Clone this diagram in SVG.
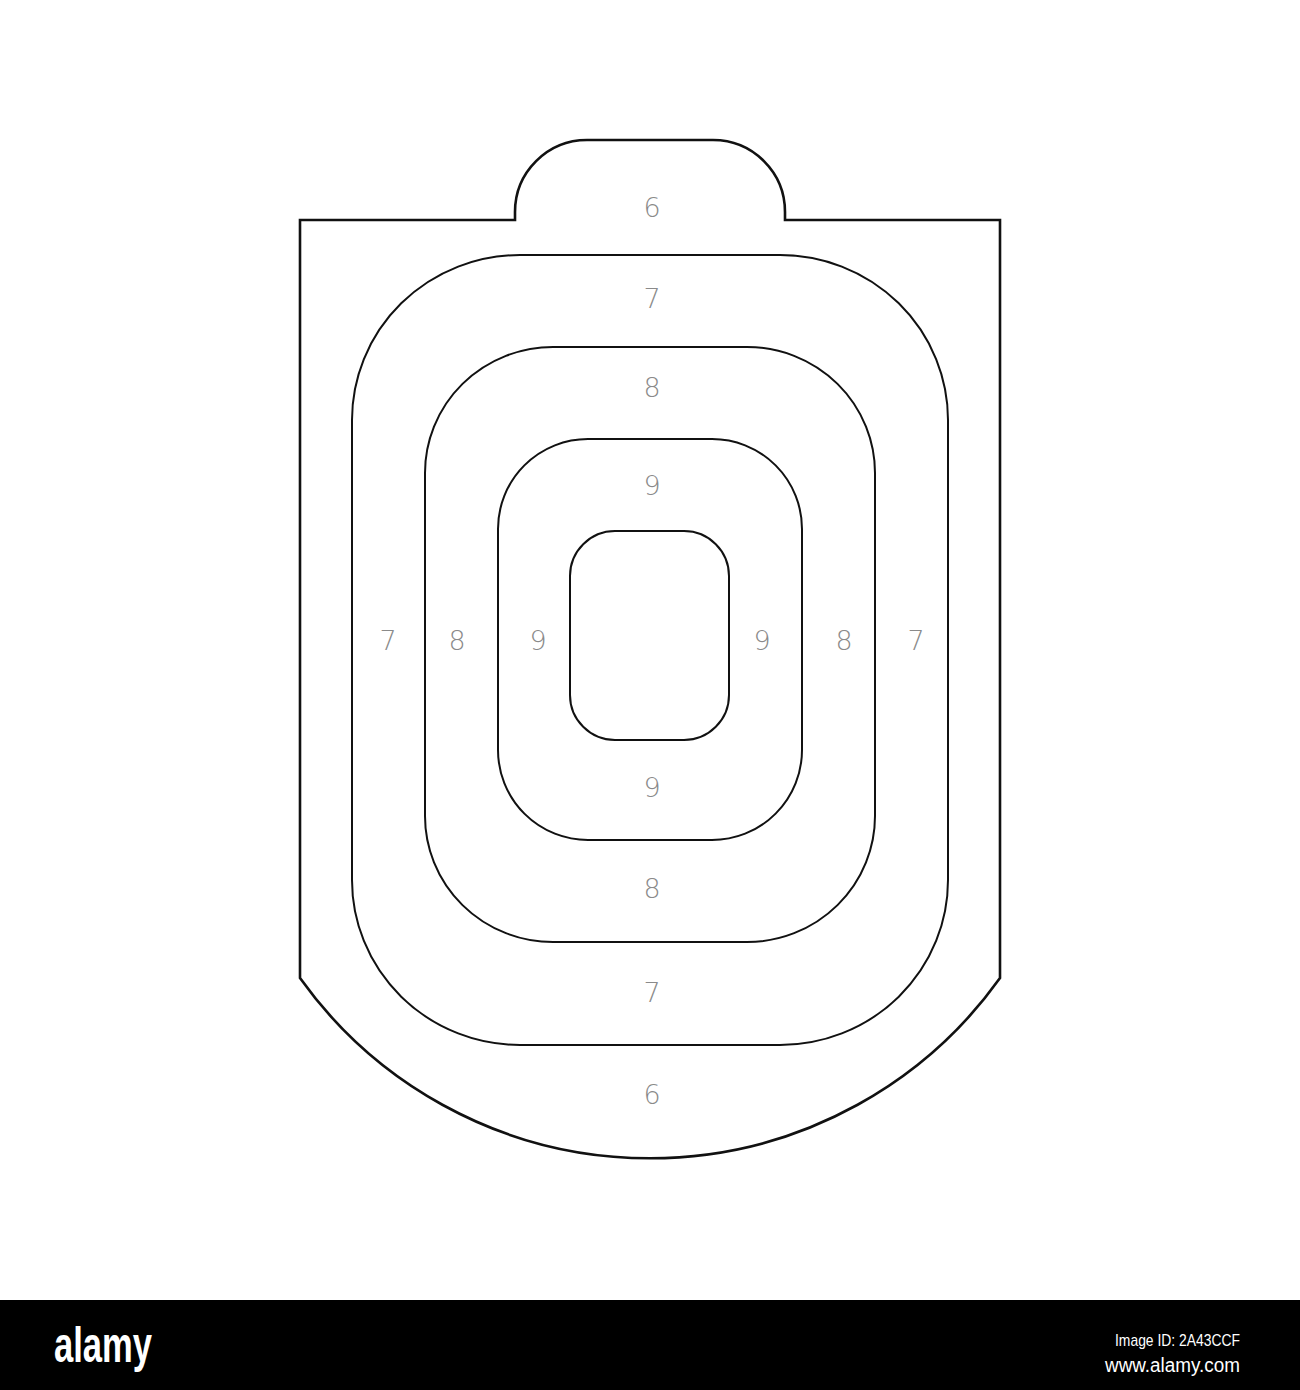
<svg xmlns="http://www.w3.org/2000/svg" width="1300" height="1390" viewBox="0 0 1300 1390">
<style>
.ring{fill:none;stroke:#111;stroke-width:2}
.outer{fill:none;stroke:#111;stroke-width:2.6}
.num{font-family:"DejaVu Sans","Liberation Sans",sans-serif;font-size:27px;fill:#8a8a8a;text-anchor:middle;font-weight:200}
.bar{font-family:"Liberation Sans Narrow","Liberation Sans",sans-serif;fill:#fff}
</style>
<rect x="0" y="0" width="1300" height="1390" fill="#fff"/>
<g id="outer-shape">
<path class="outer" d="M300,220 H515 V212 A72,72 0 0 1 587,140 H713 A72,72 0 0 1 785,212 V220 H1000 V978 A430,430 0 0 1 300,978 Z"/>
</g>
<g id="ring-7"><rect class="ring" x="352" y="255" width="596" height="790" rx="168" ry="165"/></g>
<g id="ring-8"><rect class="ring" x="425" y="347" width="450" height="595" rx="128" ry="126"/></g>
<g id="ring-9"><rect class="ring" x="498" y="439" width="304" height="401" rx="90" ry="90"/></g>
<g id="ring-10"><rect class="ring" x="570" y="531" width="159" height="209" rx="45" ry="45"/></g>
<g id="labels">
<text class="num" x="652" y="217">6</text>
<text class="num" x="652" y="308">7</text>
<text class="num" x="652" y="397">8</text>
<text class="num" x="652" y="495">9</text>
<text class="num" x="652" y="797">9</text>
<text class="num" x="652" y="898">8</text>
<text class="num" x="652" y="1002">7</text>
<text class="num" x="652" y="1104">6</text>
<text class="num" x="388" y="650">7</text>
<text class="num" x="457" y="650">8</text>
<text class="num" x="538" y="650">9</text>
<text class="num" x="762" y="650">9</text>
<text class="num" x="844" y="650">8</text>
<text class="num" x="916" y="650">7</text>
</g>
<g id="connectors"></g>
<g id="footer">
<rect x="0" y="1300" width="1300" height="90" fill="#000"/>
<text class="bar" x="54" y="1362" font-size="50" font-weight="bold" textLength="98" lengthAdjust="spacingAndGlyphs">alamy</text>
<text class="bar" x="1240" y="1346" font-size="17" text-anchor="end" fill="#ddd" textLength="125" lengthAdjust="spacingAndGlyphs">Image ID: 2A43CCF</text>
<text class="bar" x="1240" y="1372" font-size="20" text-anchor="end" textLength="135" lengthAdjust="spacingAndGlyphs">www.alamy.com</text>
</g>
</svg>
